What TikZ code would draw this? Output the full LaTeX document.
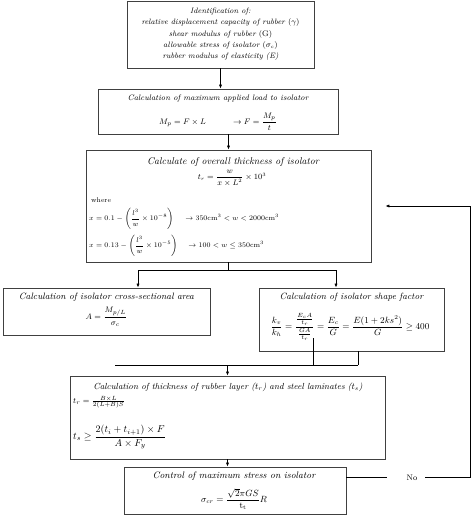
\documentclass[tikz,border=0pt]{standalone}
\usepackage{amsmath,amssymb}
\usetikzlibrary{arrows.meta,positioning}

\begin{document}
\begin{tikzpicture}
    [
        x=1pt, y=-1pt,
        box/.style={rectangle, draw=black!75, line width=0.8pt, inner sep=0pt},
        txt/.style={inner sep=0pt, font=\fontsize{#1}{11.3}\selectfont\itshape},
        txt/.default=7.5,
        eq/.style={inner sep=0pt, font=\fontsize{#1}{9}\selectfont},
        eq/.default=7.5,
        link/.style={line width=0.7pt},
        flow/.style={-{Latex[length=4pt,width=3.2pt]}, line width=0.7pt},
    ]
    \useasboundingbox (0,0) rectangle (474,515);

    % boxes
    \node[box, txt=7.8, align=center, minimum width=187pt, minimum height=67pt] (ident) at (220.5,34.5)
        {Identification of:\\
         relative displacement capacity of rubber $(\gamma)$\\
         shear modulus of rubber $(\mathrm{G})$\\
         allowable stress of isolator $(\sigma_c)$\\
         rubber modulus of elasticity (E)};
    \node[box, minimum width=240pt, minimum height=45pt] (load) at (218,111.5) {};
    \node[box, minimum width=285pt, minimum height=112pt] (thick) at (228.5,206) {};
    \node[box, minimum width=207pt, minimum height=47pt] (area) at (106.5,311.5) {};
    \node[box, minimum width=185pt, minimum height=63pt] (shape) at (351.5,319.5) {};
    \node[box, minimum width=315pt, minimum height=83pt] (layer) at (227.5,417.5) {};
    \node[box, minimum width=222pt, minimum height=47pt] (control) at (235,490.5) {};

    % texts
    \node[txt=8] (loadt) at (218,98) {Calculation of maximum applied load to isolator};
    \node[eq=8.3] (loadeq) at (218,122) {$M_p = F\times L \qquad\quad \rightarrow F = \dfrac{M_p}{t}$};

    \node[txt=9.8] (thickt) at (233,162) {Calculate of overall thickness of isolator};
    \node[eq=7.8] (thickeq) at (232,178) {$t_r = \dfrac{w}{x\times L^2}\times 10^3$};
    \node[eq=6.8, anchor=west] (where) at (91,200) {where};
    \node[eq=7.1, anchor=west] (xone) at (89,219)
        {$x = 0.1 - \left(\dfrac{l^3}{w}\times 10^{-8}\right) \quad\; \rightarrow 350\mathrm{cm}^3 < w < 2000\mathrm{cm}^3$};
    \node[eq=7.1, anchor=west] (xtwo) at (89,246)
        {$x = 0.13 - \left(\dfrac{l^3}{w}\times 10^{-5}\right) \quad\, \rightarrow 100 < w \leq 350\mathrm{cm}^3$};

    \node[txt=9.2] (areat) at (106.5,297) {Calculation of isolator cross-sectional area};
    \node[eq=8.3] (areaeq) at (106.5,317) {$A = \dfrac{M_{p/L}}{\sigma_c}$};

    \node[txt=9.1] (shapet) at (351.5,297) {Calculation of isolator shape factor};
    \node[eq=8.6] (shapeeq) at (350,327)
        {$\dfrac{k_v}{k_h} = \dfrac{\frac{E_c A}{t_r}}{\frac{GA}{t_r}} = \dfrac{E_c}{G} = \dfrac{E(1+2ks^2)}{G} \geq 400$};

    \node[txt=8.8] (layert) at (228,387)
        {Calculation of thickness of rubber layer ($t_r$) and steel laminates ($t_s$)};
    \node[eq=8, anchor=west] (layereq) at (73,402) {$t_r = \frac{B\times L}{2(L+B)S}$};
    \node[eq=9.6, anchor=west] (layertwo) at (73,437)
        {$t_s \geq \dfrac{2(t_i+t_{i+1})\times F}{A\times F_y}$};

    \node[txt=9.4] (controlt) at (234,476.5) {Control of maximum stress on isolator};
    \node[eq=8.6] (controleq) at (234,499) {$\sigma_{cr} = \dfrac{\sqrt{2}\pi G S}{\mathrm{t_t}} R$};

    \node[eq=8] (no) at (412,478) {No};

    % connectors
    \coordinate (splitL) at (138,270);
    \coordinate (splitR) at (336,270);
    \coordinate (joinL) at (115,365);
    \coordinate (joinR) at (358,365);
    \coordinate (stub) at (313,338);
    \coordinate (noL) at (387,477);
    \coordinate (noR) at (425,477);
    \coordinate (back) at (470,477);

    \draw[flow] (ident.south) -- (ident.south |- load.north);
    \draw[flow] (thick.north |- load.south) -- (thick.north);
    \draw[link] (thick.south) -- (thick.south |- splitL);
    \draw[link] (splitL) -- (splitR);
    \draw[flow] (splitL) -- (splitL |- area.north);
    \draw[flow] (splitR) -- (splitR |- shape.north);
    \draw[link] (joinR |- shape.south) -- (joinR);
    \draw[link] (stub) -- (stub |- joinR);
    \draw[link] (joinL) -- (joinR);
    \draw[flow] (layer.north |- joinL) -- (layer.north);
    \draw[flow] (layer.south) -- (layer.south |- control.north);
    \draw[link] (control.east |- noL) -- (noL);
    \draw[flow] (noR) -- (back) |- ([xshift=14pt]thick.east);
\end{tikzpicture}
\end{document}
